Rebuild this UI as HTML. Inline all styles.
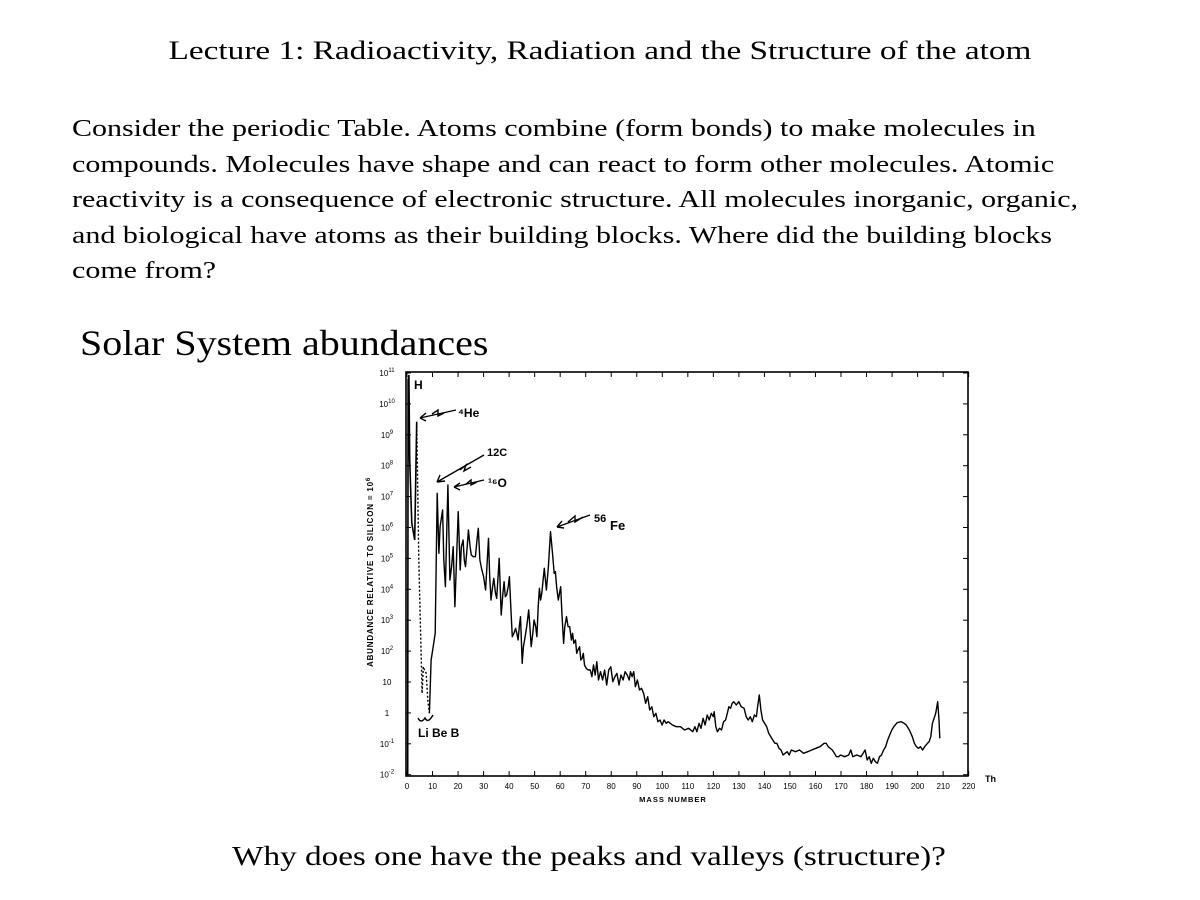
<!DOCTYPE html>
<html><head><meta charset="utf-8"><style>
html,body{margin:0;padding:0;background:#fff;width:1200px;height:900px;overflow:hidden}
.t{position:absolute;font-family:"Liberation Serif",serif;color:#000;white-space:nowrap}
</style></head><body>
<div class="t" style="left:0;width:1200px;text-align:center;top:36px;font-size:26px;transform:scaleX(1.28);transform-origin:600px 0">Lecture 1: Radioactivity, Radiation and the Structure of the atom</div>
<div class="t" style="left:72px;top:112px;font-size:24px;line-height:35.5px;transform:scaleX(1.25);transform-origin:0 0">Consider the periodic Table. Atoms combine (form bonds) to make molecules in<br>compounds. Molecules have shape and can react to form other molecules. Atomic<br>reactivity is a consequence of electronic structure. All molecules inorganic, organic,<br>and biological have atoms as their building blocks. Where did the building blocks<br>come from?</div>
<div class="t" style="left:80px;top:322px;font-size:36px;transform:scaleX(1.11);transform-origin:0 0">Solar System abundances</div>
<div class="t" style="left:0;width:1178px;text-align:center;top:841px;font-size:27px;transform:scaleX(1.23);transform-origin:589px 0">Why does one have the peaks and valleys (structure)?</div>
<svg id="s" width="1200" height="900" style="position:absolute;left:0;top:0" xmlns="http://www.w3.org/2000/svg"></svg>
<script>
var s=document.getElementById('s'),h='';
var L=406,R=968,T=372,B=776;
function X(m){return 407+m*2.553}
function Y(l){return 373+(11-l)*30.9}
h+='<rect x="'+L+'" y="'+T+'" width="'+(R-L)+'" height="'+(B-T)+'" fill="none" stroke="#000" stroke-width="1.6"/>';
var sup=['11','10','9','8','7','6','5','4','3','2','','','-1','-2'];
for(var i=0;i<14;i++){var l=11-i,y=Y(l);
h+='<line x1="'+L+'" y1="'+y+'" x2="'+(L+5)+'" y2="'+y+'" stroke="#000"/><line x1="'+R+'" y1="'+y+'" x2="'+(R-5)+'" y2="'+y+'" stroke="#000"/>';
var lab=l==1?'10':l==0?'1':'10<tspan font-size="6" dy="-4">'+sup[i]+'</tspan>';
h+='<text x="387" y="'+(y+3)+'" font-family="Liberation Sans" font-size="8" text-anchor="middle">'+lab+'</text>';}
for(var m=0;m<=220;m+=10){var x=X(m);
h+='<line x1="'+x+'" y1="'+B+'" x2="'+x+'" y2="'+(B-5)+'" stroke="#000"/><line x1="'+x+'" y1="'+T+'" x2="'+x+'" y2="'+(T+5)+'" stroke="#000"/>';
h+='<text x="'+x+'" y="789" font-family="Liberation Sans" font-size="8" text-anchor="middle">'+m+'</text>';}
h+='<text x="673" y="802" font-family="Liberation Sans" font-size="7.5" font-weight="bold" text-anchor="middle" letter-spacing="1">MASS  NUMBER</text>';
h+='<text transform="translate(373,572) rotate(-90)" font-family="Liberation Sans" font-size="8" font-weight="bold" text-anchor="middle" letter-spacing="0.8">ABUNDANCE RELATIVE TO SILICON = 10<tspan font-size="6" dy="-3">6</tspan></text>';
h+='<text x="985" y="782" font-family="Liberation Sans" font-size="9" font-weight="bold">Th</text>';
var solidA=[[165,1245],[166,60],[168,45],[170,300],[175,490],[182,540],[187,185]];
var dash=[[187,185],[192,600],[200,1000],[203,920],[206,930],[210,940],[214,1020],[218,1060]];
var d=[[218,1060],[222,900],[226,870],[232,820],[237,400],[241,580],[244,500],[250,450],[253,600],[257,680],[263,375],[268,660],[272,620],[276,560],[280,740],[284,600],[288,455],[293,630],[296,560],[300,540],[303,600],[306,620],[310,560],[313,510],[317,560],[320,585],[325,590],[330,590],[334,540],[337,505],[341,600],[345,625],[350,650],[355,690],[362,535],[365,650],[368,720],[372,680],[375,655],[379,700],[382,715],[388,595],[393,765],[397,700],[400,665],[403,710],[406,705],[410,680],[413,650],[417,760],[420,830],[424,820],[428,805],[431,820],[434,840],[437,800],[440,770],[444,910],[447,860],[450,840],[455,800],[460,750],[463,800],[466,860],[470,820],[473,780],[477,800],[480,830],[483,740],[486,685],[489,720],[492,700],[495,660],[498,625],[503,690],[508,620],[513,515],[518,580],[522,640],[525,635],[528,680],[532,720],[535,700],[538,680],[541,760],[545,850],[548,800],[552,770],[556,800],[560,800],[564,840],[567,820],[570,850],[574,840],[577,880],[580,870],[584,860],[587,900],[590,895],[593,880],[596,915],[600,925],[605,930],[610,930],[614,950],[618,915],[622,945],[626,905],[630,960],[635,935],[640,960],[645,930],[650,975],[655,930],[660,920],[665,965],[670,950],[675,940],[680,975],[685,945],[690,960],[695,935],[700,945],[705,960],[708,935],[712,950],[716,935],[720,980],[725,960],[730,990],[735,985],[740,1000],[745,1030],[750,1010],[755,1050],[760,1040],[765,1070],[770,1060],[775,1085],[780,1080],[785,1095],[790,1080],[795,1090],[800,1085],[810,1095],[820,1100],[830,1100],[840,1110],[850,1105],[860,1115],[865,1100],[870,1115],[875,1090],[880,1105],[885,1075],[890,1095],[895,1065],[900,1080],[905,1060],[910,1070],[912,1055],[916,1100],[920,1115],[925,1105],[930,1110],[935,1085],[940,1080],[944,1060],[948,1040],[952,1045],[956,1030],[960,1025],[966,1035],[972,1025],[978,1040],[985,1045],[990,1070],[995,1080],[1000,1070],[1005,1085],[1010,1065],[1015,1070],[1018,1040],[1022,1005],[1026,1050],[1030,1080],[1035,1090],[1040,1100],[1045,1120],[1050,1130],[1055,1140],[1060,1150],[1065,1150],[1070,1165],[1075,1170],[1080,1185],[1085,1180],[1090,1175],[1095,1185],[1100,1170],[1110,1175],[1120,1170],[1130,1180],[1140,1175],[1150,1170],[1160,1165],[1170,1160],[1180,1150],[1185,1150],[1190,1160],[1200,1170],[1205,1180],[1210,1190],[1215,1190],[1220,1185],[1230,1190],[1240,1185],[1245,1170],[1250,1190],[1260,1185],[1270,1190],[1280,1170],[1285,1200],[1290,1190],[1295,1210],[1300,1195],[1305,1205],[1310,1210],[1315,1190],[1320,1185],[1325,1170],[1330,1160],[1335,1140],[1340,1125],[1345,1110],[1350,1100],[1358,1088],[1368,1085],[1375,1090],[1380,1095],[1388,1110],[1395,1130],[1400,1150],[1405,1160],[1410,1165],[1415,1160],[1420,1170],[1425,1160],[1432,1150],[1436,1145],[1440,1130],[1444,1090],[1448,1075],[1452,1060],[1457,1025],[1460,1080],[1462,1135]];
function P(a){return a.map(function(p){return (340+p[0]/2.4375).toFixed(1)+','+(360+p[1]/3).toFixed(1)}).join(' ')}
h+='<polyline points="'+P(solidA)+'" fill="none" stroke="#000" stroke-width="1.6"/>';
h+='<polyline points="'+P(dash)+'" fill="none" stroke="#000" stroke-width="1.4" stroke-dasharray="2,2"/>';
h+='<polyline points="'+P(d)+'" fill="none" stroke="#000" stroke-width="1.4" stroke-linejoin="round"/>';
var A='font-family="Liberation Sans" font-weight="bold" fill="#000"';
h+='<text x="414" y="389" '+A+' font-size="12">H</text>';
h+='<text x="458" y="417" '+A+' font-size="12">⁴He</text><path d="M456 410 L420 418 M420 418 l6-5 M420 418 l6 3 M432 414 l6-4 l0 6 l6-3" fill="none" stroke="#000" stroke-width="1.4"/>';
h+='<text x="487" y="456" '+A+' font-size="11">12C</text><path d="M484 455 L437 482 M437 482 l8-1 M437 482 l3-7 M460 470 l6-5 l-2 6 l7-4" fill="none" stroke="#000" stroke-width="1.4"/>';
h+='<text x="488" y="487" '+A+' font-size="12">¹⁶O</text><path d="M484 480 L454 487 M454 487 l6-4 M454 487 l6 3 M466 484 l5-4 l0 5 l6-3" fill="none" stroke="#000" stroke-width="1.4"/>';
h+='<text x="594" y="522" '+A+' font-size="11">56</text><text x="610" y="530" '+A+' font-size="13">Fe</text><path d="M590 515 L557 527 M557 527 l5-6 M557 527 l7 1 M568 522 l7-6 l0 6 l8-5" fill="none" stroke="#000" stroke-width="1.4"/>';
h+='<path d="M418 718 q3 6 7 0 q3 6 8 -3" fill="none" stroke="#000" stroke-width="1.4"/>';
h+='<text x="418" y="737" '+A+' font-size="12">Li Be B</text>';
s.innerHTML=h;
</script>
</body></html>
